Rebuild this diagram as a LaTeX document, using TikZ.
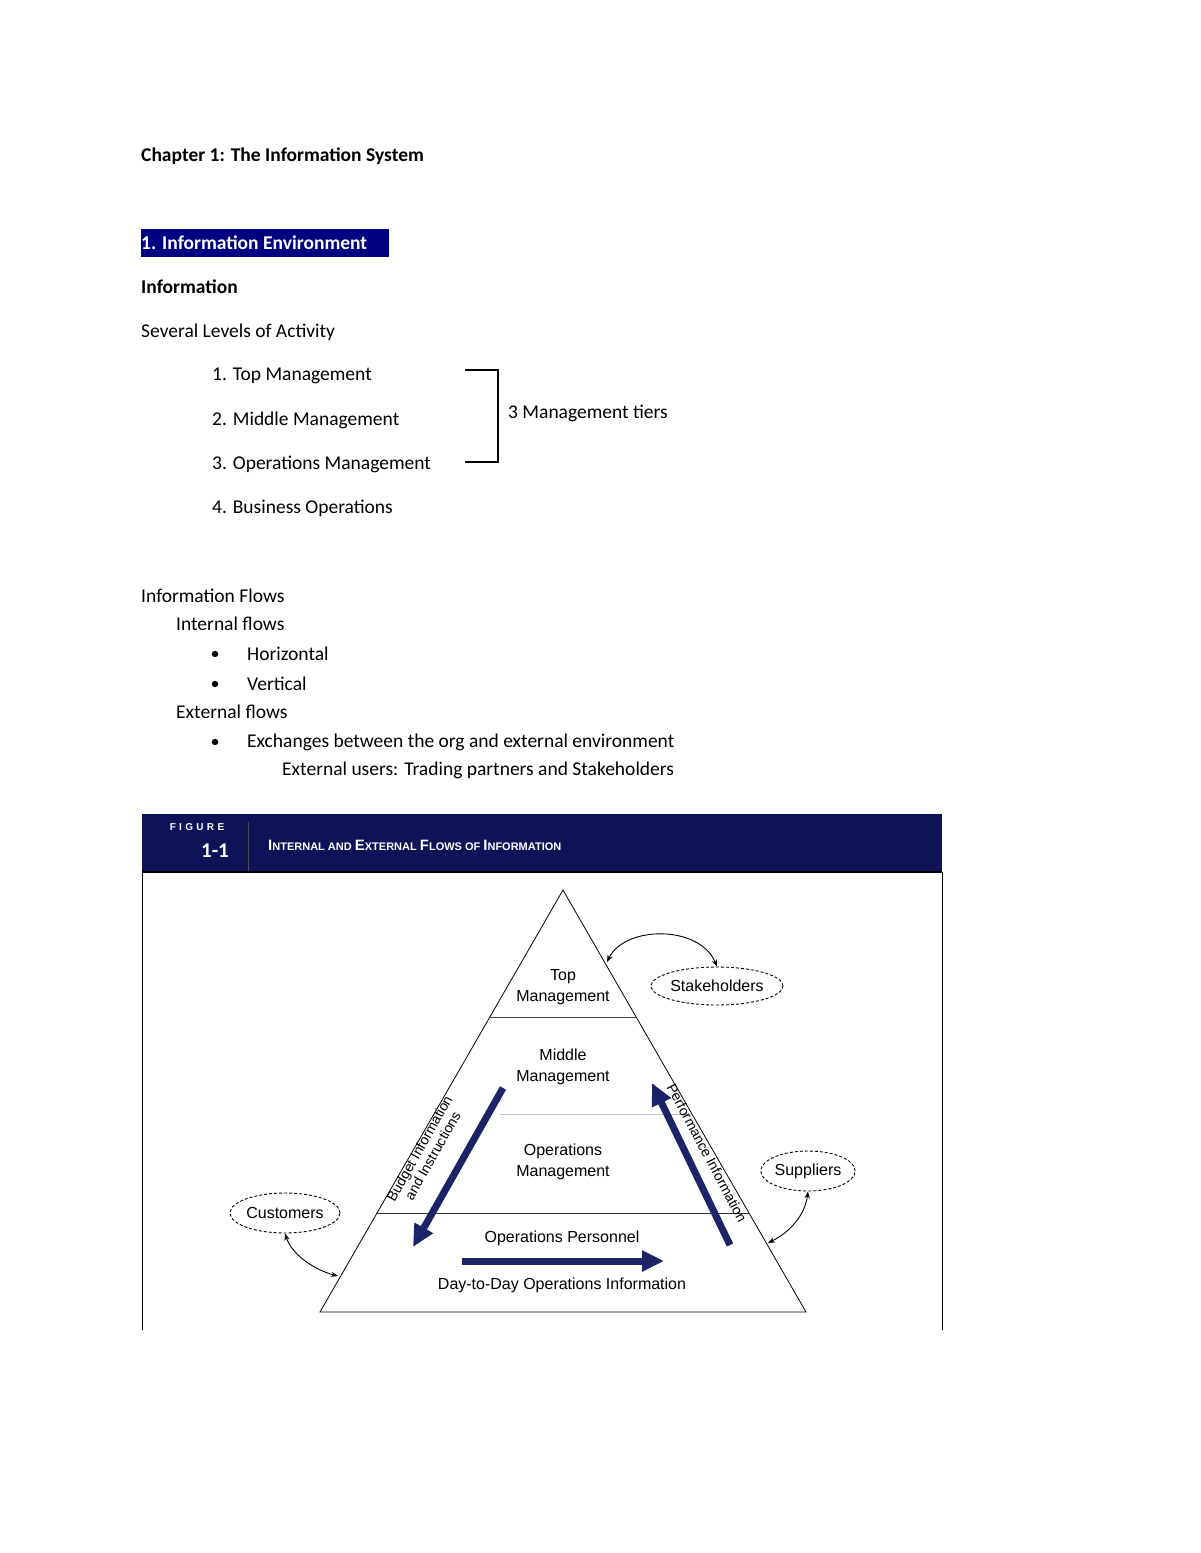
\documentclass[tikz,border=0pt]{standalone}
\usepackage{fontspec}
\setmainfont{Carlito}
\newfontfamily\arial{Liberation Sans}
\usetikzlibrary{arrows.meta,shapes.geometric}
\definecolor{navy}{HTML}{0E1357}
\definecolor{hl}{HTML}{000080}
\definecolor{arr}{HTML}{1C2366}
\begin{document}
\begin{tikzpicture}[x=1pt,y=-1pt,
  txt/.style={anchor=west,inner sep=0,font=\fontsize{19.5}{22}\selectfont},
  btxt/.style={txt,font=\fontsize{19.5}{22}\selectfont\bfseries},
  ftxt/.style={inner sep=0,align=center,font=\arial\fontsize{16}{21}\selectfont},
  ell/.style={draw,dashed,line width=0.9pt,dash pattern=on 3pt off 2pt,ellipse,inner sep=0,font=\arial\fontsize{16}{20}\selectfont},
  thick arrow/.style={draw=arr,line width=7pt,-{Triangle[length=22pt,width=20pt]}},
  curv/.style={{Stealth[length=7pt]}-{Stealth[length=7pt]},line width=0.9pt}]
\useasboundingbox (0,0) rectangle (1200,1553);
% text part
\node[btxt] (chap) at (141,156) {Chapter 1: The Information System};
\fill[hl] (141,229) rectangle (389,257);
\node[btxt,text=white] (sec) at (141,243) {1. Information Environment};
\node[btxt] (info) at (141,287) {Information};
\node[txt] (sev) at (141,332) {Several Levels of Activity};
\node[txt] (l1) at (212,376) {1. Top Management};
\node[txt] (l2) at (212,420) {2. Middle Management};
\node[txt] (l3) at (212,464) {3. Operations Management};
\node[txt] (l4) at (212,508) {4. Business Operations};
\draw[line width=2.5pt] (465,370) -- (498,370) -- (498,462) -- (465,462);
\node[txt] (tiers) at (508,413) {3 Management tiers};
\node[txt] (flows) at (141,596) {Information Flows};
\node[txt] (intf) at (176,624) {Internal flows};
\fill (215,654) circle (3.2); \node[txt] (hor) at (247,654) {Horizontal};
\fill (215,684) circle (3.2); \node[txt] (ver) at (247,684) {Vertical};
\node[txt] (extf) at (176,712) {External flows};
\fill (215,742) circle (3.2); \node[txt] (exch) at (247,742) {Exchanges between the org and external environment};
\node[txt] (users) at (282,770) {External users: Trading partners and Stakeholders};
% figure frame
\fill[navy] (142,814) rectangle (942,872);
\draw[black,line width=1.5pt] (142,872) -- (942,872);
\draw[black!70,line width=1pt] (248,822) -- (248,871);
\draw[line width=1pt] (142,872) -- (142,1330);
\draw[line width=1pt] (942,872) -- (942,1330);
\node[inner sep=0,text=white,font=\arial\bfseries\fontsize{10}{12}\selectfont] (fig) at (197,827) {F\,\,I\,\,G\,\,U\,\,R\,\,E};
\node[inner sep=0,text=white,font=\bfseries\fontsize{21}{24}\selectfont] (num) at (215,851) {1-1};
\node[anchor=west,inner sep=0,text=white,font=\arial\bfseries\fontsize{15}{18}\selectfont] (title) at (268,845) {I\fontsize{11}{18}\selectfont NTERNAL AND \fontsize{15}{18}\selectfont E\fontsize{11}{18}\selectfont XTERNAL \fontsize{15}{18}\selectfont F\fontsize{11}{18}\selectfont LOWS OF \fontsize{15}{18}\selectfont I\fontsize{11}{18}\selectfont NFORMATION};
% triangle
\draw[line width=0.8pt] (563,890) -- (320,1312) -- (806,1312) -- cycle;
\draw[line width=0.8pt,black!75] (490,1017) -- (636,1017);
\draw[line width=0.8pt,black!25] (500,1114) -- (692,1114);
\draw[line width=1pt,black!80] (377,1213) -- (749,1213);
\node[ftxt] (top) at (563,987) {Top\\Management};
\node[ftxt] (mid) at (563,1067) {Middle\\Management};
\node[ftxt] (ops) at (563,1162) {Operations\\Management};
\node[ftxt] (pers) at (562,1238) {Operations Personnel};
\node[ftxt] (day) at (562,1285) {Day-to-Day Operations Information};
% thick arrows
\coordinate (ba) at (503,1088); \coordinate (bb) at (413,1247);
\coordinate (pa) at (730,1245); \coordinate (pb) at (652,1083);
\coordinate (da) at (462,1261); \coordinate (db) at (664,1261);
\draw[thick arrow] (ba) -- (bb);
\draw[thick arrow] (pa) -- (pb);
\draw[thick arrow] (da) -- (db);
\node[ftxt,rotate=60.5,font=\arial\fontsize{14}{15}\selectfont] (budget) at (426,1152) {Budget Information\\and Instructions};
\node[ftxt,rotate=-62,font=\arial\fontsize{14}{15}\selectfont] (perf) at (707,1153) {Performance Information};
% externals
\node[ell,minimum width=126pt,minimum height=38pt] (stake) at (717,986) {Stakeholders};
\node[ell,minimum width=110pt,minimum height=40pt] (cust) at (285,1213) {Customers};
\node[ell,minimum width=94pt,minimum height=40pt] (supp) at (808,1171) {Suppliers};
\coordinate (ts) at (607,962);
\coordinate (tc) at (338,1276);
\coordinate (tp) at (768,1243);
\draw[curv] (ts) .. controls (625,925) and (700,925) .. (stake.north);
\draw[curv] (cust.south) .. controls (292,1255) and (315,1270) .. (tc);
\draw[curv] (supp.south) .. controls (805,1215) and (790,1232) .. (tp);
\end{tikzpicture}
\end{document}
